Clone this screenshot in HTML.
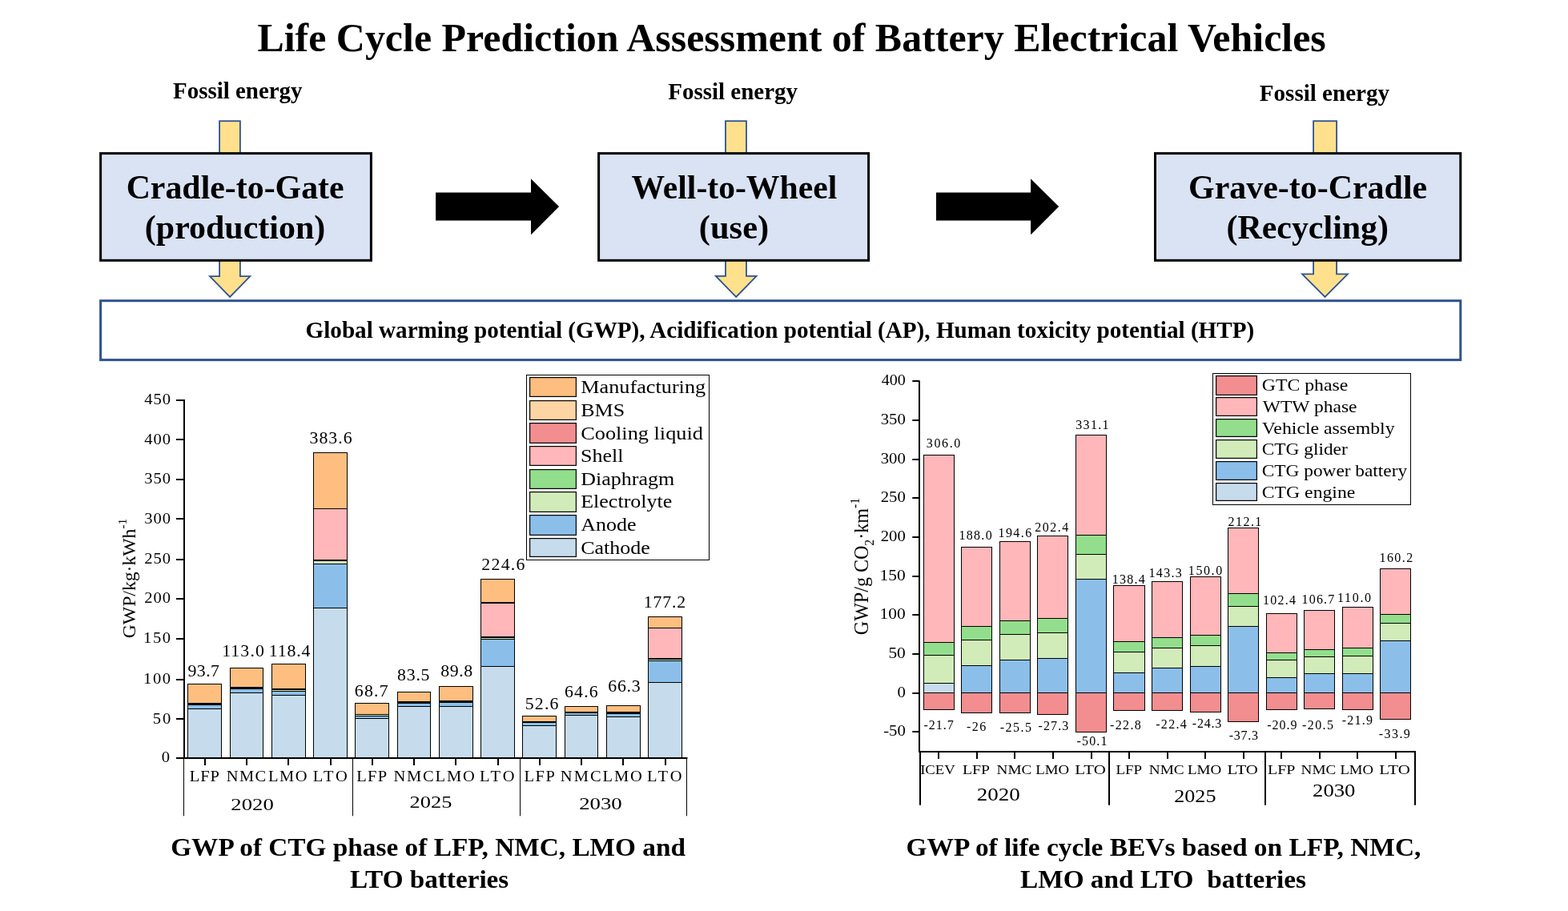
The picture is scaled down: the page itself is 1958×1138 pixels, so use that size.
<!DOCTYPE html>
<html lang="en">
<head>
<meta charset="utf-8">
<title>Life Cycle Prediction Assessment of Battery Electrical Vehicles</title>
<style>
html,body{margin:0;padding:0;background:#fff;}
body{width:1958px;height:1138px;overflow:hidden;}
svg{display:block;position:absolute;left:0;top:0;}
text{font-family:'Liberation Serif', serif;fill:#000;white-space:pre;}
</style>
</head>
<body>
<svg width="1958" height="1138" viewBox="0 0 1958 1138">
<rect width="1958" height="1138" fill="#fff"/>
<g shape-rendering="auto">
<rect x="274.1" y="151.2" width="25.8" height="43.8" fill="#FFE18D" stroke="#2F528F" stroke-width="1.8"/>
<polygon points="274.1,320 299.9,320 299.9,345.1 312.3,345.1 287.1,370.9 262,345.1 274.1,345.1" fill="#FFE18D" stroke="#2F528F" stroke-width="1.8" stroke-linejoin="miter"/>
<rect x="906" y="151.2" width="26" height="43.8" fill="#FFE18D" stroke="#2F528F" stroke-width="1.8"/>
<polygon points="906,320 932,320 932,344.8 944.6,344.8 919.2,370.9 893.8,344.8 906,344.8" fill="#FFE18D" stroke="#2F528F" stroke-width="1.8" stroke-linejoin="miter"/>
<rect x="1640.1" y="151.2" width="29" height="43.8" fill="#FFE18D" stroke="#2F528F" stroke-width="1.8"/>
<polygon points="1640.1,320 1669.1,320 1669.1,342.4 1682.9,342.4 1654.5,370.9 1626.1,342.4 1640.1,342.4" fill="#FFE18D" stroke="#2F528F" stroke-width="1.8" stroke-linejoin="miter"/>
<rect x="125.6" y="191.6" width="337.8" height="133.7" fill="#DAE3F3" stroke="#000" stroke-width="3"/>
<rect x="747.6" y="191.6" width="337" height="133.7" fill="#DAE3F3" stroke="#000" stroke-width="3"/>
<rect x="1442.5" y="191.6" width="381.3" height="133.7" fill="#DAE3F3" stroke="#000" stroke-width="3"/>
<polygon points="544.1,240.6 663,240.6 663,223.2 698.1,258.1 663,293.3 663,275.5 544.1,275.5" fill="#000" stroke="none" stroke-width="0" stroke-linejoin="miter"/>
<polygon points="1169,240.6 1287.1,240.6 1287.1,223.2 1322.2,258.1 1287.1,293.3 1287.1,275.5 1169,275.5" fill="#000" stroke="none" stroke-width="0" stroke-linejoin="miter"/>
<rect x="125.6" y="375.7" width="1698.2" height="73.9" fill="#fff" stroke="#2F528F" stroke-width="3"/>
<rect x="234.5" y="885.5" width="42" height="61" fill="#C6DCEC" stroke="#000" stroke-width="1"/>
<rect x="234.5" y="880.5" width="42" height="5" fill="#8BBFEA" stroke="#000" stroke-width="1"/>
<rect x="234.5" y="878.5" width="42" height="2" fill="#000" stroke="#000" stroke-width="1"/>
<rect x="234.5" y="854.5" width="42" height="24" fill="#FEBE80" stroke="#000" stroke-width="1"/>
<rect x="287.5" y="865.5" width="41" height="81" fill="#C6DCEC" stroke="#000" stroke-width="1"/>
<rect x="287.5" y="860.5" width="41" height="5" fill="#8BBFEA" stroke="#000" stroke-width="1"/>
<rect x="287.5" y="858.5" width="41" height="2" fill="#000" stroke="#000" stroke-width="1"/>
<rect x="287.5" y="834.5" width="41" height="24" fill="#FEBE80" stroke="#000" stroke-width="1"/>
<rect x="339.5" y="868.5" width="42" height="78" fill="#C6DCEC" stroke="#000" stroke-width="1"/>
<rect x="339.5" y="863.5" width="42" height="5" fill="#8BBFEA" stroke="#000" stroke-width="1"/>
<rect x="339.5" y="861.5" width="42" height="2" fill="#D1EBB9" stroke="#000" stroke-width="1"/>
<rect x="339.5" y="860.5" width="42" height="1" fill="#000" stroke="#000" stroke-width="1"/>
<rect x="339.5" y="829.5" width="42" height="31" fill="#FEBE80" stroke="#000" stroke-width="1"/>
<rect x="391.5" y="759.5" width="42" height="187" fill="#C6DCEC" stroke="#000" stroke-width="1"/>
<rect x="391.5" y="704.5" width="42" height="55" fill="#8BBFEA" stroke="#000" stroke-width="1"/>
<rect x="391.5" y="700.5" width="42" height="4" fill="#D1EBB9" stroke="#000" stroke-width="1"/>
<rect x="391.5" y="699.5" width="42" height="1" fill="#000" stroke="#000" stroke-width="1"/>
<rect x="391.5" y="635.5" width="42" height="64" fill="#FFB7B9" stroke="#000" stroke-width="1"/>
<rect x="391.5" y="565.5" width="42" height="70" fill="#FEBE80" stroke="#000" stroke-width="1"/>
<rect x="443.5" y="897.5" width="42" height="49" fill="#C6DCEC" stroke="#000" stroke-width="1"/>
<rect x="443.5" y="894.5" width="42" height="3" fill="#8BBFEA" stroke="#000" stroke-width="1"/>
<rect x="443.5" y="892.5" width="42" height="2" fill="#D1EBB9" stroke="#000" stroke-width="1"/>
<rect x="443.5" y="878.5" width="42" height="14" fill="#FEBE80" stroke="#000" stroke-width="1"/>
<rect x="496.5" y="882.5" width="41" height="64" fill="#C6DCEC" stroke="#000" stroke-width="1"/>
<rect x="496.5" y="878.5" width="41" height="4" fill="#8BBFEA" stroke="#000" stroke-width="1"/>
<rect x="496.5" y="876.5" width="41" height="2" fill="#000" stroke="#000" stroke-width="1"/>
<rect x="496.5" y="864.5" width="41" height="12" fill="#FEBE80" stroke="#000" stroke-width="1"/>
<rect x="548.5" y="882.5" width="42" height="64" fill="#C6DCEC" stroke="#000" stroke-width="1"/>
<rect x="548.5" y="877.5" width="42" height="5" fill="#8BBFEA" stroke="#000" stroke-width="1"/>
<rect x="548.5" y="875.5" width="42" height="2" fill="#000" stroke="#000" stroke-width="1"/>
<rect x="548.5" y="857.5" width="42" height="18" fill="#FEBE80" stroke="#000" stroke-width="1"/>
<rect x="600.5" y="832.5" width="42" height="114" fill="#C6DCEC" stroke="#000" stroke-width="1"/>
<rect x="600.5" y="798.5" width="42" height="34" fill="#8BBFEA" stroke="#000" stroke-width="1"/>
<rect x="600.5" y="796.5" width="42" height="2" fill="#D1EBB9" stroke="#000" stroke-width="1"/>
<rect x="600.5" y="795.5" width="42" height="1" fill="#000" stroke="#000" stroke-width="1"/>
<rect x="600.5" y="753.5" width="42" height="42" fill="#FFB7B9" stroke="#000" stroke-width="1"/>
<rect x="600.5" y="752.5" width="42" height="1" fill="#000" stroke="#000" stroke-width="1"/>
<rect x="600.5" y="723.5" width="42" height="29" fill="#FEBE80" stroke="#000" stroke-width="1"/>
<rect x="652.5" y="906.5" width="42" height="40" fill="#C6DCEC" stroke="#000" stroke-width="1"/>
<rect x="652.5" y="902.5" width="42" height="4" fill="#8BBFEA" stroke="#000" stroke-width="1"/>
<rect x="652.5" y="901.5" width="42" height="1" fill="#000" stroke="#000" stroke-width="1"/>
<rect x="652.5" y="894.5" width="42" height="7" fill="#FEBE80" stroke="#000" stroke-width="1"/>
<rect x="705.5" y="893.5" width="41" height="53" fill="#C6DCEC" stroke="#000" stroke-width="1"/>
<rect x="705.5" y="890.5" width="41" height="3" fill="#8BBFEA" stroke="#000" stroke-width="1"/>
<rect x="705.5" y="889.5" width="41" height="1" fill="#000" stroke="#000" stroke-width="1"/>
<rect x="705.5" y="882.5" width="41" height="7" fill="#FEBE80" stroke="#000" stroke-width="1"/>
<rect x="757.5" y="895.5" width="42" height="51" fill="#C6DCEC" stroke="#000" stroke-width="1"/>
<rect x="757.5" y="891.5" width="42" height="4" fill="#8BBFEA" stroke="#000" stroke-width="1"/>
<rect x="757.5" y="889.5" width="42" height="2" fill="#000" stroke="#000" stroke-width="1"/>
<rect x="757.5" y="881.5" width="42" height="8" fill="#FEBE80" stroke="#000" stroke-width="1"/>
<rect x="809.5" y="852.5" width="42" height="94" fill="#C6DCEC" stroke="#000" stroke-width="1"/>
<rect x="809.5" y="825.5" width="42" height="27" fill="#8BBFEA" stroke="#000" stroke-width="1"/>
<rect x="809.5" y="823.5" width="42" height="2" fill="#D1EBB9" stroke="#000" stroke-width="1"/>
<rect x="809.5" y="822.5" width="42" height="1" fill="#000" stroke="#000" stroke-width="1"/>
<rect x="809.5" y="784.5" width="42" height="38" fill="#FFB7B9" stroke="#000" stroke-width="1"/>
<rect x="809.5" y="770.5" width="42" height="14" fill="#FEBE80" stroke="#000" stroke-width="1"/>
<line x1="230" y1="499" x2="230" y2="948" stroke="#000" stroke-width="2"/>
<line x1="220" y1="947" x2="858.5" y2="947" stroke="#000" stroke-width="2"/>
<line x1="220" y1="500" x2="230" y2="500" stroke="#000" stroke-width="2"/>
<line x1="220" y1="549" x2="230" y2="549" stroke="#000" stroke-width="2"/>
<line x1="220" y1="599" x2="230" y2="599" stroke="#000" stroke-width="2"/>
<line x1="220" y1="648" x2="230" y2="648" stroke="#000" stroke-width="2"/>
<line x1="220" y1="699" x2="230" y2="699" stroke="#000" stroke-width="2"/>
<line x1="220" y1="748" x2="230" y2="748" stroke="#000" stroke-width="2"/>
<line x1="220" y1="798" x2="230" y2="798" stroke="#000" stroke-width="2"/>
<line x1="220" y1="849" x2="230" y2="849" stroke="#000" stroke-width="2"/>
<line x1="220" y1="898" x2="230" y2="898" stroke="#000" stroke-width="2"/>
<line x1="256" y1="947" x2="256" y2="956" stroke="#000" stroke-width="2"/>
<line x1="308" y1="947" x2="308" y2="956" stroke="#000" stroke-width="2"/>
<line x1="360" y1="947" x2="360" y2="956" stroke="#000" stroke-width="2"/>
<line x1="413" y1="947" x2="413" y2="956" stroke="#000" stroke-width="2"/>
<line x1="465" y1="947" x2="465" y2="956" stroke="#000" stroke-width="2"/>
<line x1="517" y1="947" x2="517" y2="956" stroke="#000" stroke-width="2"/>
<line x1="569" y1="947" x2="569" y2="956" stroke="#000" stroke-width="2"/>
<line x1="622" y1="947" x2="622" y2="956" stroke="#000" stroke-width="2"/>
<line x1="674" y1="947" x2="674" y2="956" stroke="#000" stroke-width="2"/>
<line x1="726" y1="947" x2="726" y2="956" stroke="#000" stroke-width="2"/>
<line x1="778" y1="947" x2="778" y2="956" stroke="#000" stroke-width="2"/>
<line x1="831" y1="947" x2="831" y2="956" stroke="#000" stroke-width="2"/>
<line x1="229.5" y1="947" x2="229.5" y2="1019.3" stroke="#000" stroke-width="1"/>
<line x1="440.5" y1="947" x2="440.5" y2="1019.3" stroke="#000" stroke-width="1"/>
<line x1="649.5" y1="947" x2="649.5" y2="1019.3" stroke="#000" stroke-width="1"/>
<line x1="857.5" y1="947" x2="857.5" y2="1019.3" stroke="#000" stroke-width="1"/>
<rect x="657.5" y="468.5" width="228" height="231" fill="#fff" stroke="#000" stroke-width="1"/>
<rect x="661.6" y="471.6" width="57.8" height="23.8" fill="#FEBE80" stroke="#000" stroke-width="1.2"/>
<rect x="661.6" y="500.6" width="57.8" height="23.8" fill="#FDD5A4" stroke="#000" stroke-width="1.2"/>
<rect x="661.6" y="528.6" width="57.8" height="24.8" fill="#F28E8F" stroke="#000" stroke-width="1.2"/>
<rect x="661.6" y="557.6" width="57.8" height="23.8" fill="#FFB7B9" stroke="#000" stroke-width="1.2"/>
<rect x="661.6" y="586.6" width="57.8" height="23.8" fill="#93DE8C" stroke="#000" stroke-width="1.2"/>
<rect x="661.6" y="614.6" width="57.8" height="24.8" fill="#D1EBB9" stroke="#000" stroke-width="1.2"/>
<rect x="661.6" y="643.6" width="57.8" height="24.8" fill="#8BBFEA" stroke="#000" stroke-width="1.2"/>
<rect x="661.6" y="672.6" width="57.8" height="22.8" fill="#C6DCEC" stroke="#000" stroke-width="1.2"/>
<rect x="1153.5" y="865.5" width="38" height="21" fill="#F28E8F" stroke="#000" stroke-width="1"/>
<rect x="1153.5" y="853.5" width="38" height="12" fill="#C6DCEC" stroke="#000" stroke-width="1"/>
<rect x="1153.5" y="818.5" width="38" height="35" fill="#D1EBB9" stroke="#000" stroke-width="1"/>
<rect x="1153.5" y="802.5" width="38" height="16" fill="#93DE8C" stroke="#000" stroke-width="1"/>
<rect x="1153.5" y="568.5" width="38" height="234" fill="#FFB7B9" stroke="#000" stroke-width="1"/>
<rect x="1200.5" y="865.5" width="38" height="25" fill="#F28E8F" stroke="#000" stroke-width="1"/>
<rect x="1200.5" y="831.5" width="38" height="34" fill="#8BBFEA" stroke="#000" stroke-width="1"/>
<rect x="1200.5" y="799.5" width="38" height="32" fill="#D1EBB9" stroke="#000" stroke-width="1"/>
<rect x="1200.5" y="782.5" width="38" height="17" fill="#93DE8C" stroke="#000" stroke-width="1"/>
<rect x="1200.5" y="683.5" width="38" height="99" fill="#FFB7B9" stroke="#000" stroke-width="1"/>
<rect x="1248.5" y="865.5" width="38" height="25" fill="#F28E8F" stroke="#000" stroke-width="1"/>
<rect x="1248.5" y="824.5" width="38" height="41" fill="#8BBFEA" stroke="#000" stroke-width="1"/>
<rect x="1248.5" y="792.5" width="38" height="32" fill="#D1EBB9" stroke="#000" stroke-width="1"/>
<rect x="1248.5" y="775.5" width="38" height="17" fill="#93DE8C" stroke="#000" stroke-width="1"/>
<rect x="1248.5" y="676.5" width="38" height="99" fill="#FFB7B9" stroke="#000" stroke-width="1"/>
<rect x="1295.5" y="865.5" width="38" height="27" fill="#F28E8F" stroke="#000" stroke-width="1"/>
<rect x="1295.5" y="822.5" width="38" height="43" fill="#8BBFEA" stroke="#000" stroke-width="1"/>
<rect x="1295.5" y="790.5" width="38" height="32" fill="#D1EBB9" stroke="#000" stroke-width="1"/>
<rect x="1295.5" y="772.5" width="38" height="18" fill="#93DE8C" stroke="#000" stroke-width="1"/>
<rect x="1295.5" y="669.5" width="38" height="103" fill="#FFB7B9" stroke="#000" stroke-width="1"/>
<rect x="1343.5" y="865.5" width="38" height="49" fill="#F28E8F" stroke="#000" stroke-width="1"/>
<rect x="1343.5" y="723.5" width="38" height="142" fill="#8BBFEA" stroke="#000" stroke-width="1"/>
<rect x="1343.5" y="692.5" width="38" height="31" fill="#D1EBB9" stroke="#000" stroke-width="1"/>
<rect x="1343.5" y="668.5" width="38" height="24" fill="#93DE8C" stroke="#000" stroke-width="1"/>
<rect x="1343.5" y="543.5" width="38" height="125" fill="#FFB7B9" stroke="#000" stroke-width="1"/>
<rect x="1390.5" y="865.5" width="39" height="22" fill="#F28E8F" stroke="#000" stroke-width="1"/>
<rect x="1390.5" y="840.5" width="39" height="25" fill="#8BBFEA" stroke="#000" stroke-width="1"/>
<rect x="1390.5" y="814.5" width="39" height="26" fill="#D1EBB9" stroke="#000" stroke-width="1"/>
<rect x="1390.5" y="801.5" width="39" height="13" fill="#93DE8C" stroke="#000" stroke-width="1"/>
<rect x="1390.5" y="731.5" width="39" height="70" fill="#FFB7B9" stroke="#000" stroke-width="1"/>
<rect x="1438.5" y="865.5" width="38" height="22" fill="#F28E8F" stroke="#000" stroke-width="1"/>
<rect x="1438.5" y="834.5" width="38" height="31" fill="#8BBFEA" stroke="#000" stroke-width="1"/>
<rect x="1438.5" y="809.5" width="38" height="25" fill="#D1EBB9" stroke="#000" stroke-width="1"/>
<rect x="1438.5" y="796.5" width="38" height="13" fill="#93DE8C" stroke="#000" stroke-width="1"/>
<rect x="1438.5" y="726.5" width="38" height="70" fill="#FFB7B9" stroke="#000" stroke-width="1"/>
<rect x="1486.5" y="865.5" width="38" height="24" fill="#F28E8F" stroke="#000" stroke-width="1"/>
<rect x="1486.5" y="832.5" width="38" height="33" fill="#8BBFEA" stroke="#000" stroke-width="1"/>
<rect x="1486.5" y="806.5" width="38" height="26" fill="#D1EBB9" stroke="#000" stroke-width="1"/>
<rect x="1486.5" y="793.5" width="38" height="13" fill="#93DE8C" stroke="#000" stroke-width="1"/>
<rect x="1486.5" y="720.5" width="38" height="73" fill="#FFB7B9" stroke="#000" stroke-width="1"/>
<rect x="1533.5" y="865.5" width="38" height="36" fill="#F28E8F" stroke="#000" stroke-width="1"/>
<rect x="1533.5" y="782.5" width="38" height="83" fill="#8BBFEA" stroke="#000" stroke-width="1"/>
<rect x="1533.5" y="757.5" width="38" height="25" fill="#D1EBB9" stroke="#000" stroke-width="1"/>
<rect x="1533.5" y="741.5" width="38" height="16" fill="#93DE8C" stroke="#000" stroke-width="1"/>
<rect x="1533.5" y="659.5" width="38" height="82" fill="#FFB7B9" stroke="#000" stroke-width="1"/>
<rect x="1581.5" y="865.5" width="38" height="21" fill="#F28E8F" stroke="#000" stroke-width="1"/>
<rect x="1581.5" y="846.5" width="38" height="19" fill="#8BBFEA" stroke="#000" stroke-width="1"/>
<rect x="1581.5" y="824.5" width="38" height="22" fill="#D1EBB9" stroke="#000" stroke-width="1"/>
<rect x="1581.5" y="815.5" width="38" height="9" fill="#93DE8C" stroke="#000" stroke-width="1"/>
<rect x="1581.5" y="766.5" width="38" height="49" fill="#FFB7B9" stroke="#000" stroke-width="1"/>
<rect x="1628.5" y="865.5" width="38" height="20" fill="#F28E8F" stroke="#000" stroke-width="1"/>
<rect x="1628.5" y="841.5" width="38" height="24" fill="#8BBFEA" stroke="#000" stroke-width="1"/>
<rect x="1628.5" y="820.5" width="38" height="21" fill="#D1EBB9" stroke="#000" stroke-width="1"/>
<rect x="1628.5" y="811.5" width="38" height="9" fill="#93DE8C" stroke="#000" stroke-width="1"/>
<rect x="1628.5" y="762.5" width="38" height="49" fill="#FFB7B9" stroke="#000" stroke-width="1"/>
<rect x="1676.5" y="865.5" width="38" height="21" fill="#F28E8F" stroke="#000" stroke-width="1"/>
<rect x="1676.5" y="841.5" width="38" height="24" fill="#8BBFEA" stroke="#000" stroke-width="1"/>
<rect x="1676.5" y="819.5" width="38" height="22" fill="#D1EBB9" stroke="#000" stroke-width="1"/>
<rect x="1676.5" y="809.5" width="38" height="10" fill="#93DE8C" stroke="#000" stroke-width="1"/>
<rect x="1676.5" y="758.5" width="38" height="51" fill="#FFB7B9" stroke="#000" stroke-width="1"/>
<rect x="1723.5" y="865.5" width="38" height="33" fill="#F28E8F" stroke="#000" stroke-width="1"/>
<rect x="1723.5" y="800.5" width="38" height="65" fill="#8BBFEA" stroke="#000" stroke-width="1"/>
<rect x="1723.5" y="778.5" width="38" height="22" fill="#D1EBB9" stroke="#000" stroke-width="1"/>
<rect x="1723.5" y="767.5" width="38" height="11" fill="#93DE8C" stroke="#000" stroke-width="1"/>
<rect x="1723.5" y="710.5" width="38" height="57" fill="#FFB7B9" stroke="#000" stroke-width="1"/>
<line x1="1148" y1="475.5" x2="1148" y2="940" stroke="#000" stroke-width="2"/>
<line x1="1149" y1="938" x2="1149" y2="1005.8" stroke="#000" stroke-width="2"/>
<line x1="1147" y1="939" x2="1768" y2="939" stroke="#000" stroke-width="2"/>
<line x1="1139.3" y1="476" x2="1148" y2="476" stroke="#000" stroke-width="2"/>
<line x1="1139.3" y1="525" x2="1148" y2="525" stroke="#000" stroke-width="2"/>
<line x1="1139.3" y1="574" x2="1148" y2="574" stroke="#000" stroke-width="2"/>
<line x1="1139.3" y1="622" x2="1148" y2="622" stroke="#000" stroke-width="2"/>
<line x1="1139.3" y1="671" x2="1148" y2="671" stroke="#000" stroke-width="2"/>
<line x1="1139.3" y1="720" x2="1148" y2="720" stroke="#000" stroke-width="2"/>
<line x1="1139.3" y1="768" x2="1148" y2="768" stroke="#000" stroke-width="2"/>
<line x1="1139.3" y1="817" x2="1148" y2="817" stroke="#000" stroke-width="2"/>
<line x1="1139.3" y1="866" x2="1148" y2="866" stroke="#000" stroke-width="2"/>
<line x1="1139.3" y1="914" x2="1148" y2="914" stroke="#000" stroke-width="2"/>
<line x1="1172" y1="939" x2="1172" y2="948" stroke="#000" stroke-width="2"/>
<line x1="1220" y1="939" x2="1220" y2="948" stroke="#000" stroke-width="2"/>
<line x1="1267" y1="939" x2="1267" y2="948" stroke="#000" stroke-width="2"/>
<line x1="1315" y1="939" x2="1315" y2="948" stroke="#000" stroke-width="2"/>
<line x1="1363" y1="939" x2="1363" y2="948" stroke="#000" stroke-width="2"/>
<line x1="1410" y1="939" x2="1410" y2="948" stroke="#000" stroke-width="2"/>
<line x1="1458" y1="939" x2="1458" y2="948" stroke="#000" stroke-width="2"/>
<line x1="1505" y1="939" x2="1505" y2="948" stroke="#000" stroke-width="2"/>
<line x1="1553" y1="939" x2="1553" y2="948" stroke="#000" stroke-width="2"/>
<line x1="1600" y1="939" x2="1600" y2="948" stroke="#000" stroke-width="2"/>
<line x1="1648" y1="939" x2="1648" y2="948" stroke="#000" stroke-width="2"/>
<line x1="1695" y1="939" x2="1695" y2="948" stroke="#000" stroke-width="2"/>
<line x1="1743" y1="939" x2="1743" y2="948" stroke="#000" stroke-width="2"/>
<line x1="1385" y1="939" x2="1385" y2="1005.8" stroke="#000" stroke-width="2"/>
<line x1="1580" y1="939" x2="1580" y2="1005.8" stroke="#000" stroke-width="2"/>
<line x1="1767" y1="939" x2="1767" y2="1005.8" stroke="#000" stroke-width="2"/>
<rect x="1514.5" y="466.5" width="247" height="164" fill="#fff" stroke="#000" stroke-width="1"/>
<rect x="1518.6" y="469.6" width="50.8" height="23.8" fill="#F28E8F" stroke="#000" stroke-width="1.2"/>
<rect x="1518.6" y="496.6" width="50.8" height="22.8" fill="#FFB7B9" stroke="#000" stroke-width="1.2"/>
<rect x="1518.6" y="523.6" width="50.8" height="21.8" fill="#93DE8C" stroke="#000" stroke-width="1.2"/>
<rect x="1518.6" y="549.6" width="50.8" height="22.8" fill="#D1EBB9" stroke="#000" stroke-width="1.2"/>
<rect x="1518.6" y="576.6" width="50.8" height="22.8" fill="#8BBFEA" stroke="#000" stroke-width="1.2"/>
<rect x="1518.6" y="603.6" width="50.8" height="21.8" fill="#C6DCEC" stroke="#000" stroke-width="1.2"/>
</g>
<g>
<text transform="translate(321.4 64.1) scale(0.9910 1)" font-size="50.4" font-weight="bold">Life Cycle Prediction Assessment of Battery Electrical Vehicles</text>
<text transform="translate(216 122.7) scale(1.0084 1)" font-size="28.7" font-weight="bold">Fossil energy</text>
<text transform="translate(834.2 123.7) scale(1.0105 1)" font-size="28.7" font-weight="bold">Fossil energy</text>
<text transform="translate(1572.79 126) scale(1.0131 1)" font-size="28.7" font-weight="bold">Fossil energy</text>
<text transform="translate(157.65 248.3) scale(0.9735 1)" font-size="43" font-weight="bold">Cradle-to-Gate</text>
<text transform="translate(180.81 298.4) scale(0.9766 1)" font-size="43" font-weight="bold">(production)</text>
<text transform="translate(788.39 248.3) scale(0.9693 1)" font-size="43" font-weight="bold">Well-to-Wheel</text>
<text transform="translate(872.8 298.4) scale(0.9888 1)" font-size="43" font-weight="bold">(use)</text>
<text transform="translate(1484.05 248.3) scale(0.9755 1)" font-size="43" font-weight="bold">Grave-to-Cradle</text>
<text transform="translate(1531.41 298.4) scale(0.9757 1)" font-size="43" font-weight="bold">(Recycling)</text>
<text transform="translate(381.58 421.8) scale(1.0191 1)" font-size="28.6" font-weight="bold">Global warming potential (GWP), Acidification potential (AP), Human toxicity potential (HTP)</text>
<text transform="translate(213.17 1068.9) scale(1.0221 1)" font-size="32.6" font-weight="bold">GWP of CTG phase of LFP, NMC, LMO and</text>
<text transform="translate(437 1108.5) scale(1.0187 1)" font-size="32.6" font-weight="bold">LTO batteries</text>
<text transform="translate(1131.57 1068.9) scale(1.0253 1)" font-size="32.6" font-weight="bold">GWP of life cycle BEVs based on LFP, NMC,</text>
<text transform="translate(1274 1108.5) scale(1.0219 1)" font-size="32.6" font-weight="bold">LMO and LTO  batteries</text>
<text transform="translate(180.2 505) scale(1.1500 1)" font-size="17.9" letter-spacing="0.91">450</text>
<text transform="translate(180.2 554.5) scale(1.1500 1)" font-size="17.9" letter-spacing="0.91">400</text>
<text transform="translate(180.2 604.4) scale(1.1500 1)" font-size="17.9" letter-spacing="0.91">350</text>
<text transform="translate(180.2 653.8) scale(1.1500 1)" font-size="17.9" letter-spacing="0.91">300</text>
<text transform="translate(180.2 704.1) scale(1.1500 1)" font-size="17.9" letter-spacing="0.91">250</text>
<text transform="translate(180.2 753.4) scale(1.1500 1)" font-size="17.9" letter-spacing="0.91">200</text>
<text transform="translate(179.05 802.9) scale(1.1500 1)" font-size="17.9" letter-spacing="1.41">150</text>
<text transform="translate(179.05 854.1) scale(1.1500 1)" font-size="17.9" letter-spacing="1.41">100</text>
<text transform="translate(190.65 903.5) scale(1.1500 1)" font-size="17.9" letter-spacing="1.73">50</text>
<text transform="translate(201.8 952.3) scale(1.1500 1)" font-size="17.9" letter-spacing="0.9">0</text>
<text transform="translate(234.4 845) scale(1.0300 1)" font-size="21.2" letter-spacing="0.46">93.7</text>
<text transform="translate(277.17 820.4) scale(1.0300 1)" font-size="21.2" letter-spacing="1.06">113.0</text>
<text transform="translate(335.77 819.6) scale(1.0300 1)" font-size="21.2" letter-spacing="0.82">118.4</text>
<text transform="translate(386.57 554) scale(1.0300 1)" font-size="21.2" letter-spacing="0.95">383.6</text>
<text transform="translate(442.8 869.7) scale(1.0300 1)" font-size="21.2" letter-spacing="1.19">68.7</text>
<text transform="translate(496 850.4) scale(1.0300 1)" font-size="21.2" letter-spacing="0.75">83.5</text>
<text transform="translate(550.2 844.7) scale(1.0300 1)" font-size="21.2" letter-spacing="0.56">89.8</text>
<text transform="translate(601.2 711.9) scale(1.0300 1)" font-size="21.2" letter-spacing="1.26">224.6</text>
<text transform="translate(655.77 885.6) scale(1.0300 1)" font-size="21.2" letter-spacing="1.12">52.6</text>
<text transform="translate(705 870.7) scale(1.0300 1)" font-size="21.2" letter-spacing="1.14">64.6</text>
<text transform="translate(759.2 863.7) scale(1.0300 1)" font-size="21.2" letter-spacing="0.77">66.3</text>
<text transform="translate(803.77 758.8) scale(1.0300 1)" font-size="21.2" letter-spacing="0.81">177.2</text>
<text transform="translate(236.8 975.8) scale(1.1200 1)" font-size="18.3" letter-spacing="0.81">LFP</text>
<text transform="translate(282.8 975.8) scale(1.1200 1)" font-size="18.3" letter-spacing="1.2">NMC</text>
<text transform="translate(335 975.8) scale(1.1200 1)" font-size="18.3" letter-spacing="1.32">LMO</text>
<text transform="translate(390.8 975.8) scale(1.1200 1)" font-size="18.3" letter-spacing="2.4">LTO</text>
<text transform="translate(445.2 975.8) scale(1.1200 1)" font-size="18.3" letter-spacing="1.16">LFP</text>
<text transform="translate(491.4 975.8) scale(1.1200 1)" font-size="18.3" letter-spacing="1.6">NMC</text>
<text transform="translate(543.6 975.8) scale(1.1200 1)" font-size="18.3" letter-spacing="1.65">LMO</text>
<text transform="translate(599 975.8) scale(1.1200 1)" font-size="18.3" letter-spacing="2.63">LTO</text>
<text transform="translate(654.4 975.8) scale(1.1200 1)" font-size="18.3" letter-spacing="1.4">LFP</text>
<text transform="translate(699.8 975.8) scale(1.1200 1)" font-size="18.3" letter-spacing="1.86">NMC</text>
<text transform="translate(752.6 975.8) scale(1.1200 1)" font-size="18.3" letter-spacing="1.65">LMO</text>
<text transform="translate(808 975.8) scale(1.1200 1)" font-size="18.3" letter-spacing="2.63">LTO</text>
<text transform="translate(288.34 1011.7) scale(1.2155 1)" font-size="22">2020</text>
<text transform="translate(511.52 1008.5) scale(1.2016 1)" font-size="22">2025</text>
<text transform="translate(723.15 1010.8) scale(1.2187 1)" font-size="22">2030</text>
<text transform="translate(725.19 490.8) scale(1.1467 1)" font-size="22.9">Manufacturing</text>
<text transform="translate(725.2 519.8) scale(1.1370 1)" font-size="22.9">BMS</text>
<text transform="translate(725.19 548.7) scale(1.1495 1)" font-size="22.9">Cooling liquid</text>
<text transform="translate(725.06 576.8) scale(1.1370 1)" font-size="22.9">Shell</text>
<text transform="translate(725.2 605.5) scale(1.1370 1)" font-size="22.9">Diaphragm</text>
<text transform="translate(725.2 633.7) scale(1.1370 1)" font-size="22.9">Electrolyte</text>
<text transform="translate(725.2 662.9) scale(1.1370 1)" font-size="22.9">Anode</text>
<text transform="translate(725.2 691.5) scale(1.1370 1)" font-size="22.9">Cathode</text>
<text transform="translate(1100.78 481.42) scale(1.1022 1)" font-size="18.2">400</text>
<text transform="translate(1099.73 530.06) scale(1.1377 1)" font-size="18.2">350</text>
<text transform="translate(1099.73 578.69) scale(1.1377 1)" font-size="18.2">300</text>
<text transform="translate(1099.73 627.33) scale(1.1377 1)" font-size="18.2">250</text>
<text transform="translate(1099.73 675.96) scale(1.1377 1)" font-size="18.2">200</text>
<text transform="translate(1098.55 724.6) scale(1.1811 1)" font-size="18.2">150</text>
<text transform="translate(1098.55 773.23) scale(1.1811 1)" font-size="18.2">100</text>
<text transform="translate(1109.41 821.87) scale(1.1779 1)" font-size="18.2">50</text>
<text transform="translate(1120.47 870.5) scale(1.1385 1)" font-size="18.2">0</text>
<text transform="translate(1103.19 919.13) scale(1.1409 1)" font-size="18.2">-50</text>
<text transform="translate(1156.8 558.5) scale(0.9600 1)" font-size="16.7" letter-spacing="1.69">306.0</text>
<text transform="translate(1197.44 673.7) scale(0.9600 1)" font-size="16.7" letter-spacing="1.35">188.0</text>
<text transform="translate(1246.44 671.1) scale(0.9600 1)" font-size="16.7" letter-spacing="1.5">194.6</text>
<text transform="translate(1292.2 663.7) scale(0.9600 1)" font-size="16.7" letter-spacing="1.55">202.4</text>
<text transform="translate(1343.2 535.7) scale(0.9600 1)" font-size="16.7" letter-spacing="1.39">331.1</text>
<text transform="translate(1388.64 728.9) scale(0.9600 1)" font-size="16.7" letter-spacing="1.34">138.4</text>
<text transform="translate(1434.44 720.7) scale(0.9600 1)" font-size="16.7" letter-spacing="1.39">143.3</text>
<text transform="translate(1483.84 717.8) scale(0.9600 1)" font-size="16.7" letter-spacing="1.64">150.0</text>
<text transform="translate(1533.6 656.9) scale(0.9600 1)" font-size="16.7" letter-spacing="1.49">212.1</text>
<text transform="translate(1577.04 754.8) scale(0.9600 1)" font-size="16.7" letter-spacing="1.3">102.4</text>
<text transform="translate(1625.44 754) scale(0.9600 1)" font-size="16.7" letter-spacing="1.26">106.7</text>
<text transform="translate(1670.04 751.7) scale(0.9600 1)" font-size="16.7" letter-spacing="1.71">110.0</text>
<text transform="translate(1722.44 701.9) scale(0.9600 1)" font-size="16.7" letter-spacing="1.5">160.2</text>
<text transform="translate(1153.4 911) scale(0.9600 1)" font-size="16.7" letter-spacing="1.02">-21.7</text>
<text transform="translate(1207 912.7) scale(0.9600 1)" font-size="16.7" letter-spacing="1.47">-26</text>
<text transform="translate(1248.8 914.1) scale(0.9600 1)" font-size="16.7" letter-spacing="1.51">-25.5</text>
<text transform="translate(1296.6 911.8) scale(0.9600 1)" font-size="16.7" letter-spacing="1.13">-27.3</text>
<text transform="translate(1344.4 930.9) scale(0.9600 1)" font-size="16.7" letter-spacing="1.24">-50.1</text>
<text transform="translate(1386 910.7) scale(0.9600 1)" font-size="16.7" letter-spacing="1.43">-22.8</text>
<text transform="translate(1443.2 909.5) scale(0.9600 1)" font-size="16.7" letter-spacing="1.36">-22.4</text>
<text transform="translate(1488.8 908.7) scale(0.9600 1)" font-size="16.7" letter-spacing="0.81">-24.3</text>
<text transform="translate(1534.8 924) scale(0.9600 1)" font-size="16.7" letter-spacing="0.76">-37.3</text>
<text transform="translate(1582.2 910.8) scale(0.9600 1)" font-size="16.7" letter-spacing="1.02">-20.9</text>
<text transform="translate(1626 910.8) scale(0.9600 1)" font-size="16.7" letter-spacing="1.46">-20.5</text>
<text transform="translate(1675.8 904.8) scale(0.9600 1)" font-size="16.7" letter-spacing="1.25">-21.9</text>
<text transform="translate(1721.8 921.7) scale(0.9600 1)" font-size="16.7" letter-spacing="1.47">-33.9</text>
<text transform="translate(1149.15 967) scale(1.1814 1)" font-size="15.8">ICEV</text>
<text transform="translate(1201.95 967) scale(1.2507 1)" font-size="15.8">LFP</text>
<text transform="translate(1244.57 967) scale(1.2163 1)" font-size="15.8">NMC</text>
<text transform="translate(1293.17 967) scale(1.1922 1)" font-size="15.8">LMO</text>
<text transform="translate(1342.37 967) scale(1.3264 1)" font-size="15.8">LTO</text>
<text transform="translate(1393.53 967) scale(1.1951 1)" font-size="15.8">LFP</text>
<text transform="translate(1434.77 967) scale(1.2213 1)" font-size="15.8">NMC</text>
<text transform="translate(1482.97 967) scale(1.2079 1)" font-size="15.8">LMO</text>
<text transform="translate(1532.54 967) scale(1.3260 1)" font-size="15.8">LTO</text>
<text transform="translate(1582.94 967) scale(1.2649 1)" font-size="15.8">LFP</text>
<text transform="translate(1624.55 967) scale(1.2148 1)" font-size="15.8">NMC</text>
<text transform="translate(1673.38 967) scale(1.1860 1)" font-size="15.8">LMO</text>
<text transform="translate(1722.36 967) scale(1.3260 1)" font-size="15.8">LTO</text>
<text transform="translate(1219.8 999.6) scale(1.1961 1)" font-size="22.6">2020</text>
<text transform="translate(1466.23 1001.8) scale(1.1566 1)" font-size="22.6">2025</text>
<text transform="translate(1639.01 994.9) scale(1.1829 1)" font-size="22.6">2030</text>
<text transform="translate(1575.79 488) scale(1.0802 1)" font-size="22">GTC phase</text>
<text transform="translate(1576.8 515.1) scale(1.0691 1)" font-size="22">WTW phase</text>
<text transform="translate(1575.79 542) scale(1.0813 1)" font-size="22">Vehicle assembly</text>
<text transform="translate(1575.78 568.4) scale(1.0610 1)" font-size="22">CTG glider</text>
<text transform="translate(1575.79 595.4) scale(1.0608 1)" font-size="22">CTG power battery</text>
<text transform="translate(1575.79 622.2) scale(1.0780 1)" font-size="22">CTG engine</text>
<text transform="translate(168.9 797.3) rotate(-90) scale(1.03 1)" font-size="23">GWP/kg·kWh<tspan font-size="15" dy="-11">-1</tspan></text>
<text transform="translate(1083.6 793.2) rotate(-90) scale(0.982 1)" font-size="24.5">GWP/g CO<tspan font-size="16" dy="7">2</tspan><tspan dy="-7">·km</tspan><tspan font-size="16" dy="-10.5">-1</tspan></text>
</g>
</svg>
</body>
</html>
